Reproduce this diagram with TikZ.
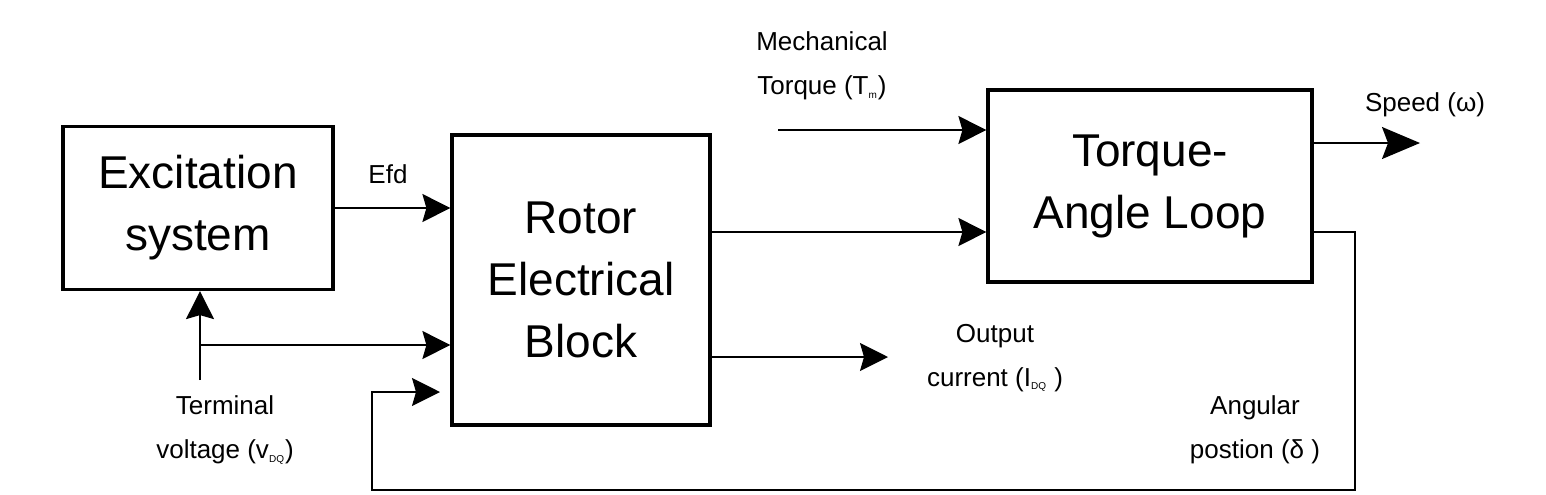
\documentclass[tikz,border=0pt]{standalone}
\usepackage{fontspec}
\setmainfont{Liberation Sans}
\usetikzlibrary{arrows.meta}
\begin{document}
\begin{tikzpicture}[x=0.5pt,y=-0.5pt,
  blk/.style={draw,line width=1.6pt,inner sep=0pt,font=\fontsize{23}{31}\selectfont,align=center},
  lab/.style={font=\fontsize{13}{22}\selectfont,align=center,inner sep=0pt},
  ar/.style={line width=0.8pt,-{Stealth[length=14pt,width=14pt,inset=2pt]}}]
\useasboundingbox (0,0) rectangle (1546,494);
\node[blk,minimum width=135pt,minimum height=81.5pt] (ex) at (198,208) {Excitation\\system};
\node[blk,minimum width=129pt,minimum height=145pt] (ro) at (581,280) {Rotor\\Electrical\\Block};
\node[blk,minimum width=162pt,minimum height=96pt] (tq) at (1150,186) {Torque-\\Angle Loop};
\coordinate (tv) at (200,380);
\coordinate (tj) at (200,345);
\coordinate (mt) at (778,130);
\coordinate (oc) at (888,357);
\coordinate (sp) at (1420,143);
\coordinate (fb) at (440,392);
\draw[ar] (ex.east|-0,208) -- (ro.west|-0,208);
\draw[ar] (tv) -- (tv|-ex.south);
\draw[ar] (tj) -- (ro.west|-tj);
\draw[ar] (mt) -- (tq.west|-mt);
\draw[ar] (ro.east|-0,232) -- (tq.west|-0,232);
\draw[ar] (ro.east|-oc) -- (oc);
\draw[line width=0.8pt,-{Stealth[length=19pt,width=16pt,inset=3pt]}] (tq.east|-sp) -- (sp);
\draw[ar] (tq.east|-0,232) -- (1355,232) -- (1355,490) -- (372,490) -- (372,392) -- (fb);
\node[lab] (efd) at (388,174) {Efd};
\node[lab] (tvl) at (225,430) {Terminal\\voltage (v\textsubscript{\tiny DQ})};
\node[lab] (mtl) at (822,66) {Mechanical\\Torque (T\textsubscript{\tiny m})};
\node[lab] (ocl) at (995,358) {Output\\current (I\textsubscript{\tiny DQ} )};
\node[lab] (spl) at (1425,105) {Speed (ω)};
\node[lab] (apl) at (1255,430) {Angular\\postion (δ )};
\end{tikzpicture}
\end{document}
